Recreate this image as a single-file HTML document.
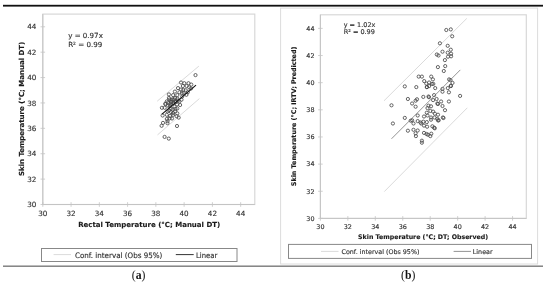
<!DOCTYPE html>
<html><head><meta charset="utf-8"><style>
html,body{margin:0;padding:0;background:#fff;}
svg{display:block;}
text{font-family:"DejaVu Sans", Verdana, sans-serif;}
.t{stroke:#333;stroke-width:0.15px;}
.tb{stroke:#1a1a1a;stroke-width:0.12px;}
</style></head><body>
<svg width="550" height="286" viewBox="0 0 550 286">
<rect x="0" y="0" width="550" height="286" fill="#fff"/>
<!-- top rule -->
<rect x="3" y="4.8" width="540" height="1.8" fill="#111"/>
<!-- bottom rule -->
<rect x="3" y="265.6" width="540" height="1.1" fill="#555"/>

<!-- ===== Panel A ===== -->
<rect x="42.8" y="14.1" width="212.00" height="190.40" fill="none" stroke="#d6d6d6" stroke-width="1.15"/>
<path d="M42.8 14.1V204.5H254.8" fill="none" stroke="#c4c4c4" stroke-width="1"/>
<line x1="42.8" y1="202.2" x2="42.8" y2="206.8" stroke="#c4c4c4" stroke-width="0.8"/>
<text x="42.8" y="216.4" text-anchor="middle" font-size="7.2" fill="#333" class="t">30</text>
<line x1="71.07" y1="202.2" x2="71.07" y2="206.8" stroke="#c4c4c4" stroke-width="0.8"/>
<text x="71.07" y="216.4" text-anchor="middle" font-size="7.2" fill="#333" class="t">32</text>
<line x1="99.33" y1="202.2" x2="99.33" y2="206.8" stroke="#c4c4c4" stroke-width="0.8"/>
<text x="99.33" y="216.4" text-anchor="middle" font-size="7.2" fill="#333" class="t">34</text>
<line x1="127.6" y1="202.2" x2="127.6" y2="206.8" stroke="#c4c4c4" stroke-width="0.8"/>
<text x="127.6" y="216.4" text-anchor="middle" font-size="7.2" fill="#333" class="t">36</text>
<line x1="155.87" y1="202.2" x2="155.87" y2="206.8" stroke="#c4c4c4" stroke-width="0.8"/>
<text x="155.87" y="216.4" text-anchor="middle" font-size="7.2" fill="#333" class="t">38</text>
<line x1="184.13" y1="202.2" x2="184.13" y2="206.8" stroke="#c4c4c4" stroke-width="0.8"/>
<text x="184.13" y="216.4" text-anchor="middle" font-size="7.2" fill="#333" class="t">40</text>
<line x1="212.4" y1="202.2" x2="212.4" y2="206.8" stroke="#c4c4c4" stroke-width="0.8"/>
<text x="212.4" y="216.4" text-anchor="middle" font-size="7.2" fill="#333" class="t">42</text>
<line x1="240.67" y1="202.2" x2="240.67" y2="206.8" stroke="#c4c4c4" stroke-width="0.8"/>
<text x="240.67" y="216.4" text-anchor="middle" font-size="7.2" fill="#333" class="t">44</text>
<line x1="40.5" y1="204.5" x2="45.099999999999994" y2="204.5" stroke="#c4c4c4" stroke-width="0.8"/>
<text x="36.3" y="207.09" text-anchor="end" font-size="7.2" fill="#333" class="t">30</text>
<line x1="40.5" y1="179.11" x2="45.099999999999994" y2="179.11" stroke="#c4c4c4" stroke-width="0.8"/>
<text x="36.3" y="181.70" text-anchor="end" font-size="7.2" fill="#333" class="t">32</text>
<line x1="40.5" y1="153.73" x2="45.099999999999994" y2="153.73" stroke="#c4c4c4" stroke-width="0.8"/>
<text x="36.3" y="156.32" text-anchor="end" font-size="7.2" fill="#333" class="t">34</text>
<line x1="40.5" y1="128.34" x2="45.099999999999994" y2="128.34" stroke="#c4c4c4" stroke-width="0.8"/>
<text x="36.3" y="130.93" text-anchor="end" font-size="7.2" fill="#333" class="t">36</text>
<line x1="40.5" y1="102.95" x2="45.099999999999994" y2="102.95" stroke="#c4c4c4" stroke-width="0.8"/>
<text x="36.3" y="105.54" text-anchor="end" font-size="7.2" fill="#333" class="t">38</text>
<line x1="40.5" y1="77.57" x2="45.099999999999994" y2="77.57" stroke="#c4c4c4" stroke-width="0.8"/>
<text x="36.3" y="80.16" text-anchor="end" font-size="7.2" fill="#333" class="t">40</text>
<line x1="40.5" y1="52.18" x2="45.099999999999994" y2="52.18" stroke="#c4c4c4" stroke-width="0.8"/>
<text x="36.3" y="54.77" text-anchor="end" font-size="7.2" fill="#333" class="t">42</text>
<line x1="40.5" y1="26.79" x2="45.099999999999994" y2="26.79" stroke="#c4c4c4" stroke-width="0.8"/>
<text x="36.3" y="29.38" text-anchor="end" font-size="7.2" fill="#333" class="t">44</text>
<g fill="none" stroke="#d0d0d0" stroke-width="0.8">
<line x1="157.2" y1="101.2" x2="198.9" y2="66.1"/>
<line x1="157.5" y1="134.9" x2="199.4" y2="98.6"/>
</g>
<g fill="none" stroke="#4a4a4a" stroke-width="0.85">
<circle cx="195.5" cy="75.1" r="1.6"/>
<circle cx="181" cy="82.5" r="1.6"/>
<circle cx="184.3" cy="83.2" r="1.6"/>
<circle cx="188.5" cy="83.2" r="1.6"/>
<circle cx="191.3" cy="84.6" r="1.6"/>
<circle cx="182.9" cy="86" r="1.6"/>
<circle cx="186.6" cy="86" r="1.6"/>
<circle cx="189.2" cy="87.4" r="1.6"/>
<circle cx="178" cy="88.1" r="1.6"/>
<circle cx="181" cy="89.5" r="1.6"/>
<circle cx="185.7" cy="90.2" r="1.6"/>
<circle cx="174.9" cy="91.6" r="1.6"/>
<circle cx="179.4" cy="92.3" r="1.6"/>
<circle cx="183.6" cy="93" r="1.6"/>
<circle cx="187.8" cy="92.3" r="1.6"/>
<circle cx="168.9" cy="94.4" r="1.6"/>
<circle cx="173.1" cy="95.1" r="1.6"/>
<circle cx="177.3" cy="95.1" r="1.6"/>
<circle cx="182.2" cy="96.5" r="1.6"/>
<circle cx="168.9" cy="97.9" r="1.6"/>
<circle cx="172.4" cy="99.3" r="1.6"/>
<circle cx="177.3" cy="98.6" r="1.6"/>
<circle cx="166.8" cy="101.4" r="1.6"/>
<circle cx="171" cy="102.1" r="1.6"/>
<circle cx="175.2" cy="102.1" r="1.6"/>
<circle cx="179.4" cy="101.4" r="1.6"/>
<circle cx="165.4" cy="104.2" r="1.6"/>
<circle cx="161.9" cy="107.8" r="1.6"/>
<circle cx="164.7" cy="107.8" r="1.6"/>
<circle cx="168.2" cy="105.7" r="1.6"/>
<circle cx="171" cy="108.5" r="1.6"/>
<circle cx="174.5" cy="106.4" r="1.6"/>
<circle cx="177.3" cy="108.5" r="1.6"/>
<circle cx="180.1" cy="105" r="1.6"/>
<circle cx="181.5" cy="99.7" r="1.6"/>
<circle cx="167.5" cy="111.3" r="1.6"/>
<circle cx="171" cy="112" r="1.6"/>
<circle cx="175.2" cy="111.3" r="1.6"/>
<circle cx="177.3" cy="113.4" r="1.6"/>
<circle cx="162.6" cy="115.5" r="1.6"/>
<circle cx="166.8" cy="114.8" r="1.6"/>
<circle cx="173.1" cy="114.8" r="1.6"/>
<circle cx="176.6" cy="116.2" r="1.6"/>
<circle cx="178.7" cy="117.6" r="1.6"/>
<circle cx="166.8" cy="119" r="1.6"/>
<circle cx="169.6" cy="118.3" r="1.6"/>
<circle cx="163" cy="122.9" r="1.6"/>
<circle cx="167.5" cy="121.1" r="1.6"/>
<circle cx="167.5" cy="123.2" r="1.6"/>
<circle cx="161.6" cy="125.8" r="1.6"/>
<circle cx="177" cy="126" r="1.6"/>
<circle cx="164.6" cy="136.9" r="1.6"/>
<circle cx="168.8" cy="138.6" r="1.6"/>
<circle cx="171" cy="101.5" r="1.6"/>
<circle cx="173.8" cy="102.9" r="1.6"/>
<circle cx="165.4" cy="103.6" r="1.6"/>
<circle cx="191" cy="88.5" r="1.6"/>
<circle cx="183.3" cy="89.9" r="1.6"/>
<circle cx="181.9" cy="93.4" r="1.6"/>
<circle cx="186.4" cy="94.8" r="1.6"/>
<circle cx="171.5" cy="100" r="1.6"/>
<circle cx="174" cy="99.5" r="1.6"/>
<circle cx="176" cy="101.5" r="1.6"/>
<circle cx="173.5" cy="103.5" r="1.6"/>
<circle cx="177" cy="104.5" r="1.6"/>
<circle cx="170" cy="106" r="1.6"/>
<circle cx="172.5" cy="109.5" r="1.6"/>
<circle cx="175.5" cy="109" r="1.6"/>
<circle cx="169" cy="110.5" r="1.6"/>
<circle cx="173" cy="113" r="1.6"/>
<circle cx="170" cy="116" r="1.6"/>
<circle cx="172" cy="118.5" r="1.6"/>
<circle cx="169.5" cy="99.5" r="1.6"/>
<circle cx="175" cy="98" r="1.6"/>
<circle cx="178" cy="100.5" r="1.6"/>
<circle cx="168" cy="102.5" r="1.6"/>
<circle cx="170.5" cy="104" r="1.6"/>
</g>
<line x1="162" y1="114.2" x2="196" y2="85.2" stroke="#111" stroke-width="1.1"/>
<text x="68.2" y="37.9" font-size="7.1" fill="#333" class="t">y = 0.97x</text>
<text x="68.2" y="46.6" font-size="7.1" fill="#333" class="t">R² = 0.99</text>
<text x="149.2" y="227" text-anchor="middle" font-size="7" font-weight="bold" fill="#1a1a1a" class="tb" textLength="142" lengthAdjust="spacingAndGlyphs">Rectal Temperature (°C; Manual DT)</text>
<text transform="translate(23.6,108.9) rotate(-90)" text-anchor="middle" font-size="6.96" font-weight="bold" fill="#1a1a1a" class="tb" textLength="134.3" lengthAdjust="spacingAndGlyphs">Skin Temperature (°C; Manual DT)</text>
<!-- legend A -->
<rect x="41.5" y="248.5" width="195.5" height="13" fill="none" stroke="#888" stroke-width="1"/>
<line x1="53.6" y1="254.6" x2="71" y2="254.6" stroke="#d0d0d0" stroke-width="0.8"/>
<text x="74.9" y="257.5" font-size="7.5" fill="#333" class="t" textLength="87.5" lengthAdjust="spacingAndGlyphs">Conf. interval (Obs 95%)</text>
<line x1="175.8" y1="254.6" x2="193.7" y2="254.6" stroke="#333" stroke-width="1"/>
<text x="196" y="257.5" font-size="7.5" fill="#333" class="t" textLength="21.3" lengthAdjust="spacingAndGlyphs">Linear</text>
<text x="138.6" y="279.3" text-anchor="middle" style="font-family:'Liberation Serif',serif" font-size="11.7" fill="#111">(<tspan font-weight="bold">a</tspan>)</text>

<!-- ===== Panel B ===== -->
<rect x="280.6" y="8.1" width="257" height="255.9" fill="none" stroke="#dcdcdc" stroke-width="1"/>
<rect x="320.4" y="14.8" width="205.90" height="203.60" fill="none" stroke="#d6d6d6" stroke-width="1.15"/>
<path d="M320.4 14.8V218.4H526.3" fill="none" stroke="#c4c4c4" stroke-width="1"/>
<line x1="320.4" y1="216.1" x2="320.4" y2="220.70000000000002" stroke="#c4c4c4" stroke-width="0.8"/>
<text x="320.4" y="229.3" text-anchor="middle" font-size="6.4" fill="#333" class="t">30</text>
<line x1="347.85" y1="216.1" x2="347.85" y2="220.70000000000002" stroke="#c4c4c4" stroke-width="0.8"/>
<text x="347.85" y="229.3" text-anchor="middle" font-size="6.4" fill="#333" class="t">32</text>
<line x1="375.31" y1="216.1" x2="375.31" y2="220.70000000000002" stroke="#c4c4c4" stroke-width="0.8"/>
<text x="375.31" y="229.3" text-anchor="middle" font-size="6.4" fill="#333" class="t">34</text>
<line x1="402.76" y1="216.1" x2="402.76" y2="220.70000000000002" stroke="#c4c4c4" stroke-width="0.8"/>
<text x="402.76" y="229.3" text-anchor="middle" font-size="6.4" fill="#333" class="t">36</text>
<line x1="430.21" y1="216.1" x2="430.21" y2="220.70000000000002" stroke="#c4c4c4" stroke-width="0.8"/>
<text x="430.21" y="229.3" text-anchor="middle" font-size="6.4" fill="#333" class="t">38</text>
<line x1="457.67" y1="216.1" x2="457.67" y2="220.70000000000002" stroke="#c4c4c4" stroke-width="0.8"/>
<text x="457.67" y="229.3" text-anchor="middle" font-size="6.4" fill="#333" class="t">40</text>
<line x1="485.12" y1="216.1" x2="485.12" y2="220.70000000000002" stroke="#c4c4c4" stroke-width="0.8"/>
<text x="485.12" y="229.3" text-anchor="middle" font-size="6.4" fill="#333" class="t">42</text>
<line x1="512.57" y1="216.1" x2="512.57" y2="220.70000000000002" stroke="#c4c4c4" stroke-width="0.8"/>
<text x="512.57" y="229.3" text-anchor="middle" font-size="6.4" fill="#333" class="t">44</text>
<line x1="318.09999999999997" y1="218.4" x2="322.7" y2="218.4" stroke="#c4c4c4" stroke-width="0.8"/>
<text x="314.5" y="220.70" text-anchor="end" font-size="6.4" fill="#333" class="t">30</text>
<line x1="318.09999999999997" y1="191.25" x2="322.7" y2="191.25" stroke="#c4c4c4" stroke-width="0.8"/>
<text x="314.5" y="193.55" text-anchor="end" font-size="6.4" fill="#333" class="t">32</text>
<line x1="318.09999999999997" y1="164.11" x2="322.7" y2="164.11" stroke="#c4c4c4" stroke-width="0.8"/>
<text x="314.5" y="166.41" text-anchor="end" font-size="6.4" fill="#333" class="t">34</text>
<line x1="318.09999999999997" y1="136.96" x2="322.7" y2="136.96" stroke="#c4c4c4" stroke-width="0.8"/>
<text x="314.5" y="139.26" text-anchor="end" font-size="6.4" fill="#333" class="t">36</text>
<line x1="318.09999999999997" y1="109.81" x2="322.7" y2="109.81" stroke="#c4c4c4" stroke-width="0.8"/>
<text x="314.5" y="112.11" text-anchor="end" font-size="6.4" fill="#333" class="t">38</text>
<line x1="318.09999999999997" y1="82.67" x2="322.7" y2="82.67" stroke="#c4c4c4" stroke-width="0.8"/>
<text x="314.5" y="84.97" text-anchor="end" font-size="6.4" fill="#333" class="t">40</text>
<line x1="318.09999999999997" y1="55.52" x2="322.7" y2="55.52" stroke="#c4c4c4" stroke-width="0.8"/>
<text x="314.5" y="57.82" text-anchor="end" font-size="6.4" fill="#333" class="t">42</text>
<line x1="318.09999999999997" y1="28.37" x2="322.7" y2="28.37" stroke="#c4c4c4" stroke-width="0.8"/>
<text x="314.5" y="30.67" text-anchor="end" font-size="6.4" fill="#333" class="t">44</text>
<g fill="none" stroke="#d0d0d0" stroke-width="0.8">
<line x1="384" y1="100.8" x2="466.8" y2="18.4"/>
<line x1="384.3" y1="191.6" x2="467.3" y2="107.8"/>
</g>
<g fill="none" stroke="#4a4a4a" stroke-width="0.85">
<circle cx="446.3" cy="30" r="1.6"/>
<circle cx="450.8" cy="29.4" r="1.6"/>
<circle cx="452.2" cy="36.3" r="1.6"/>
<circle cx="439.9" cy="43.3" r="1.6"/>
<circle cx="447.7" cy="45.8" r="1.6"/>
<circle cx="450.8" cy="49.7" r="1.6"/>
<circle cx="436.8" cy="54.5" r="1.6"/>
<circle cx="438.5" cy="55.5" r="1.6"/>
<circle cx="442.5" cy="51.7" r="1.6"/>
<circle cx="447.7" cy="52.7" r="1.6"/>
<circle cx="451.1" cy="53.7" r="1.6"/>
<circle cx="448" cy="56.7" r="1.6"/>
<circle cx="451.1" cy="56.3" r="1.6"/>
<circle cx="444.9" cy="60.1" r="1.6"/>
<circle cx="437.9" cy="67.1" r="1.6"/>
<circle cx="445.2" cy="66.1" r="1.6"/>
<circle cx="443.8" cy="71" r="1.6"/>
<circle cx="418.7" cy="76.6" r="1.6"/>
<circle cx="421.9" cy="76.6" r="1.6"/>
<circle cx="431.2" cy="76.6" r="1.6"/>
<circle cx="432.9" cy="79.4" r="1.6"/>
<circle cx="424.2" cy="81.1" r="1.6"/>
<circle cx="426.3" cy="83.6" r="1.6"/>
<circle cx="429.1" cy="82.5" r="1.6"/>
<circle cx="431.9" cy="83.9" r="1.6"/>
<circle cx="433.3" cy="83.9" r="1.6"/>
<circle cx="427" cy="87.1" r="1.6"/>
<circle cx="429.1" cy="86.1" r="1.6"/>
<circle cx="404.8" cy="86.4" r="1.6"/>
<circle cx="449.1" cy="79.4" r="1.6"/>
<circle cx="450.5" cy="80.1" r="1.6"/>
<circle cx="452.5" cy="82.9" r="1.6"/>
<circle cx="450.8" cy="85.7" r="1.6"/>
<circle cx="416.3" cy="87.1" r="1.6"/>
<circle cx="426.8" cy="87.1" r="1.6"/>
<circle cx="435.2" cy="88.1" r="1.6"/>
<circle cx="442.5" cy="88.9" r="1.6"/>
<circle cx="447.8" cy="88.1" r="1.6"/>
<circle cx="450.9" cy="86.1" r="1.6"/>
<circle cx="442.5" cy="91.7" r="1.6"/>
<circle cx="448.9" cy="92.3" r="1.6"/>
<circle cx="423.3" cy="96.9" r="1.6"/>
<circle cx="428.5" cy="96.5" r="1.6"/>
<circle cx="429" cy="97.2" r="1.6"/>
<circle cx="434.1" cy="95.1" r="1.6"/>
<circle cx="460.1" cy="95.9" r="1.6"/>
<circle cx="417" cy="99.3" r="1.6"/>
<circle cx="415.6" cy="100.7" r="1.6"/>
<circle cx="412.1" cy="103.5" r="1.6"/>
<circle cx="433.1" cy="100.1" r="1.6"/>
<circle cx="436.6" cy="99" r="1.6"/>
<circle cx="441.1" cy="101.5" r="1.6"/>
<circle cx="448.9" cy="101.5" r="1.6"/>
<circle cx="437.3" cy="103.5" r="1.6"/>
<circle cx="438" cy="104" r="1.6"/>
<circle cx="415.6" cy="106.7" r="1.6"/>
<circle cx="428.5" cy="105.7" r="1.6"/>
<circle cx="431" cy="106.3" r="1.6"/>
<circle cx="442.5" cy="106" r="1.6"/>
<circle cx="427.5" cy="108.1" r="1.6"/>
<circle cx="445" cy="110.2" r="1.6"/>
<circle cx="430.3" cy="110.9" r="1.6"/>
<circle cx="433.1" cy="111.6" r="1.6"/>
<circle cx="426.8" cy="112.7" r="1.6"/>
<circle cx="434.9" cy="113.7" r="1.6"/>
<circle cx="417.7" cy="115.5" r="1.6"/>
<circle cx="424" cy="116.5" r="1.6"/>
<circle cx="427.5" cy="115.5" r="1.6"/>
<circle cx="431" cy="117.5" r="1.6"/>
<circle cx="434.5" cy="117.5" r="1.6"/>
<circle cx="438" cy="114.7" r="1.6"/>
<circle cx="442.9" cy="117.5" r="1.6"/>
<circle cx="443.5" cy="118" r="1.6"/>
<circle cx="437.3" cy="118.9" r="1.6"/>
<circle cx="431" cy="119.7" r="1.6"/>
<circle cx="438.7" cy="120.3" r="1.6"/>
<circle cx="412.1" cy="120.3" r="1.6"/>
<circle cx="417.7" cy="121.1" r="1.6"/>
<circle cx="423.3" cy="121.7" r="1.6"/>
<circle cx="426.8" cy="122.1" r="1.6"/>
<circle cx="421.2" cy="123.5" r="1.6"/>
<circle cx="413.5" cy="123.5" r="1.6"/>
<circle cx="407.9" cy="99" r="1.6"/>
<circle cx="391.5" cy="105.3" r="1.6"/>
<circle cx="404.8" cy="117.9" r="1.6"/>
<circle cx="410.7" cy="120.7" r="1.6"/>
<circle cx="392.9" cy="123.5" r="1.6"/>
<circle cx="420.5" cy="122.5" r="1.6"/>
<circle cx="438" cy="120.4" r="1.6"/>
<circle cx="424" cy="125.6" r="1.6"/>
<circle cx="427.1" cy="126.7" r="1.6"/>
<circle cx="432.4" cy="126.3" r="1.6"/>
<circle cx="434.1" cy="127.7" r="1.6"/>
<circle cx="434.8" cy="128.3" r="1.6"/>
<circle cx="413.5" cy="129.8" r="1.6"/>
<circle cx="417.7" cy="130.5" r="1.6"/>
<circle cx="415.6" cy="133.3" r="1.6"/>
<circle cx="415.9" cy="136.1" r="1.6"/>
<circle cx="424" cy="132.9" r="1.6"/>
<circle cx="426.5" cy="134" r="1.6"/>
<circle cx="427.9" cy="134.7" r="1.6"/>
<circle cx="431.3" cy="133.7" r="1.6"/>
<circle cx="430.3" cy="136.1" r="1.6"/>
<circle cx="421.9" cy="140.7" r="1.6"/>
<circle cx="421.9" cy="142.7" r="1.6"/>
<circle cx="407.9" cy="130.7" r="1.6"/>
</g>
<line x1="391.5" y1="138.8" x2="460.3" y2="69.9" stroke="#777" stroke-width="0.8"/>
<text x="343.7" y="26.5" font-size="6.5" fill="#333" class="t">y = 1.02x</text>
<text x="343.7" y="34.3" font-size="6.5" fill="#333" class="t">R² = 0.99</text>
<text x="423.1" y="238.8" text-anchor="middle" font-size="6.3" font-weight="bold" fill="#1a1a1a" class="tb" textLength="130" lengthAdjust="spacingAndGlyphs">Skin Temperature (°C; DT; Observed)</text>
<text transform="translate(295.5,116.4) rotate(-90)" text-anchor="middle" font-size="6.4" font-weight="bold" fill="#1a1a1a" class="tb" textLength="139.6" lengthAdjust="spacingAndGlyphs">Skin Temperature (°C; IRTV; Predicted)</text>
<!-- legend B -->
<rect x="288.5" y="244.4" width="243" height="14" fill="none" stroke="#888" stroke-width="1"/>
<line x1="321" y1="251.4" x2="338.5" y2="251.4" stroke="#d0d0d0" stroke-width="0.8"/>
<text x="341.5" y="253.8" font-size="6.36" fill="#333" class="t">Conf. interval (Obs 95%)</text>
<line x1="453.6" y1="251.4" x2="471" y2="251.4" stroke="#777" stroke-width="0.8"/>
<text x="472.8" y="253.8" font-size="6.36" fill="#333" class="t">Linear</text>
<text x="408.2" y="279.3" text-anchor="middle" style="font-family:'Liberation Serif',serif" font-size="11.7" fill="#111">(<tspan font-weight="bold">b</tspan>)</text>
</svg>
</body></html>
